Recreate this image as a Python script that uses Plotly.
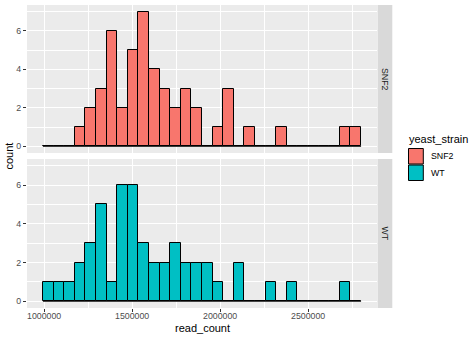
import plotly.graph_objects as go
from plotly.subplots import make_subplots

# ---- data ----
strains = ["SNF2", "WT"]
read_min = 1023000      # centre of first bin
read_max = 2770000      # centre of last bin
n_bins = 30
snf2_counts = [0, 0, 0, 1, 2, 3, 6, 2, 5, 7, 4, 3, 2, 3, 2, 0, 1, 3, 0, 1, 0, 0, 1, 0, 0, 0, 0, 0, 1, 1]
wt_counts = [1, 1, 1, 2, 3, 5, 1, 6, 6, 3, 2, 2, 3, 2, 2, 2, 1, 0, 2, 0, 0, 1, 0, 1, 0, 0, 0, 0, 1, 0]
x_ticks = [1000000, 1500000, 2000000, 2500000]
x_tick_labels = ["1000000", "1500000", "2000000", "2500000"]
x_minor = [1250000, 1750000, 2250000, 2750000]
y_ticks = [0, 2, 4, 6]
colors = {"SNF2": "#F8766D", "WT": "#00BFC4"}

bin_w = (read_max - read_min) / (n_bins - 1)
centers = [read_min + i * bin_w for i in range(n_bins)]
lo_edge = read_min - bin_w / 2
hi_edge = read_max + bin_w / 2
span = hi_edge - lo_edge
x_range = [lo_edge - 0.05 * span, hi_edge + 0.05 * span]
ymax = max(max(snf2_counts), max(wt_counts))
y_range = [-0.05 * ymax, 1.05 * ymax]

W, H = 474, 338
L, R, T, B = 27, 97, 5, 30
pw, ph = W - L - R, H - T - B
FONT = "Liberation Sans"

def py(p):  # pixel y -> paper y
    return (H - B - p) / ph

def px(p):  # pixel x -> paper x
    return (p - L) / pw

fig = make_subplots(rows=2, cols=1, shared_xaxes=True)
counts = {"SNF2": snf2_counts, "WT": wt_counts}
for r, s in enumerate(strains, start=1):
    fig.add_trace(go.Bar(x=centers, y=counts[s], width=bin_w,
                         marker=dict(color=colors[s], line=dict(color="black", width=1)),
                         showlegend=False, hoverinfo="x+y"), row=r, col=1)
    fig.add_trace(go.Scatter(x=[lo_edge, hi_edge], y=[0, 0], mode="lines",
                             line=dict(color="black", width=1),
                             showlegend=False, hoverinfo="skip"), row=r, col=1)

grid = dict(showgrid=True, gridcolor="white", gridwidth=1.1, zeroline=False,
            showline=False)
tickfont = dict(family=FONT, size=8.8, color="#4D4D4D")
for r in (1, 2):
    fig.update_xaxes(range=x_range, tickvals=x_ticks, **grid,
                     minor=dict(tickvals=x_minor, showgrid=True, gridcolor="white", gridwidth=0.5),
                     showticklabels=False, row=r, col=1)
    fig.update_yaxes(range=y_range, tickvals=y_ticks, **grid,
                     minor=dict(tickvals=[1, 3, 5, 7], showgrid=True, gridcolor="white", gridwidth=0.5),
                     ticks="outside", ticklen=3, tickcolor="#333333", tickwidth=1,
                     tickfont=tickfont, row=r, col=1)
fig.update_xaxes(ticks="", row=1, col=1)
fig.update_xaxes(ticks="outside", ticklen=3, tickcolor="#333333", tickwidth=1, row=2, col=1)

fig.update_layout(yaxis=dict(domain=[py(153), py(5)]),
                  yaxis2=dict(domain=[py(308), py(159)]))

shapes = []
annos = []

def anno(text, x, y, size, color="black", angle=0, xanchor="center"):
    annos.append(dict(text=text, xref="paper", yref="paper", x=px(x), y=py(y),
                      xanchor=xanchor, yanchor="middle", showarrow=False,
                      textangle=angle, font=dict(family=FONT, size=size, color=color)))

# x tick labels (placed in data coordinates of the bottom x axis)
for v, lab in zip(x_ticks, x_tick_labels):
    annos.append(dict(text=lab, xref="x2", yref="paper", x=v, y=py(316.3),
                      xanchor="center", yanchor="middle", showarrow=False,
                      font=tickfont))
# strips
for s, (t, b) in zip(strains, [(5, 153), (159, 308)]):
    shapes.append(dict(type="rect", xref="paper", yref="paper",
                       x0=px(377.5), x1=px(392.3), y0=py(b), y1=py(t),
                       fillcolor="#D9D9D9", line=dict(width=0), layer="below"))
    anno(s, 385, (t + b) / 2, 8.8, "#1A1A1A", angle=90)
# axis titles
anno("count", 8, 156.5, 11, angle=-90)
anno("read_count", 202, 327.5, 11)
# legend
anno("yeast_strain", 407, 139, 11, xanchor="left")
for s, (t, b) in zip(strains, [(148.5, 164), (165, 180.5)]):
    shapes.append(dict(type="rect", xref="paper", yref="paper",
                       x0=px(408.5), x1=px(423.3), y0=py(b), y1=py(t),
                       fillcolor=colors[s], line=dict(color="black", width=1)))
    anno(s, 429, (t + b) / 2, 8.8, xanchor="left")

fig.update_layout(width=W, height=H, autosize=False,
                  margin=dict(l=L, r=R, t=T, b=B),
                  paper_bgcolor="white", plot_bgcolor="#EBEBEB",
                  bargap=0, showlegend=False,
                  shapes=shapes, annotations=annos)

fig.write_html("out.html")
